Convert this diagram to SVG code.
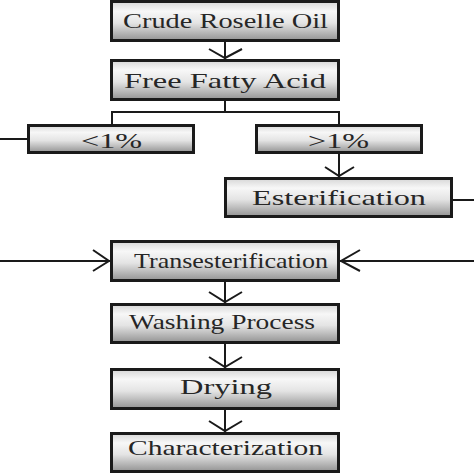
<svg xmlns="http://www.w3.org/2000/svg" width="474" height="474" viewBox="0 0 474 474">
<defs>
<linearGradient id="g" x1="0" y1="0" x2="0" y2="1">
<stop offset="0" stop-color="#d6d6d6"/>
<stop offset="0.25" stop-color="#f7f7f7"/>
<stop offset="0.55" stop-color="#e4e4e4"/>
<stop offset="1" stop-color="#939393"/>
</linearGradient>
<style>
.box{fill:url(#g);stroke:#1a1a1a;stroke-width:3}
.t{font-family:"Liberation Serif","Times New Roman",serif;font-size:22px;fill:#262626;text-anchor:start}
.c{fill:none;stroke:#1a1a1a;stroke-width:2}
</style>
</defs>
<rect width="474" height="474" fill="#ffffff"/>
<g id="connectors">
<path class="c" d="M225,42 V59 M209,49 L225,58 L242,49"/>
<path class="c" d="M225,101 V112 M112,112 H339 M112,111 V124 M339,111 V124"/>
<path class="c" d="M0,139 H27"/>
<path class="c" d="M339,154 V177 M325,167 L339,176 L354,167"/>
<path class="c" d="M453,200 H474"/>
<path class="c" d="M0,261 H110 M93,250 L109,261 L93,271"/>
<path class="c" d="M474,261 H340 M360,250 L341,261 L360,271"/>
<path class="c" d="M225,282 V303 M209,292 L225,302 L242,292"/>
<path class="c" d="M225,344 V368 M209,357 L225,367 L242,357"/>
<path class="c" d="M225,410 V432 M209,421 L225,431 L242,421"/>
</g>
<g id="crude"><rect class="box" x="111.5" y="1.5" width="227" height="39"/><text class="t" x="123" y="28" textLength="205" lengthAdjust="spacingAndGlyphs">Crude Roselle Oil</text></g>
<g id="ffa"><rect class="box" x="111.5" y="60.5" width="227" height="39"/><text class="t" x="124" y="88" textLength="202" lengthAdjust="spacingAndGlyphs">Free Fatty Acid</text></g>
<g id="lt1"><rect class="box" x="28.5" y="125.5" width="165" height="27"/><text class="t" x="81" y="148" textLength="61" lengthAdjust="spacingAndGlyphs">&lt;1%</text></g>
<g id="gt1"><rect class="box" x="256.5" y="125.5" width="165" height="27"/><text class="t" x="308" y="148" textLength="61" lengthAdjust="spacingAndGlyphs">&gt;1%</text></g>
<g id="ester"><rect class="box" x="225.5" y="178.5" width="226" height="38"/><text class="t" x="252" y="205" textLength="174" lengthAdjust="spacingAndGlyphs">Esterification</text></g>
<g id="trans"><rect class="box" x="111.5" y="241.5" width="227" height="39"/><text class="t" x="134" y="268" textLength="194" lengthAdjust="spacingAndGlyphs">Transesterification</text></g>
<g id="wash"><rect class="box" x="111.5" y="304.5" width="227" height="38"/><text class="t" x="129" y="329" textLength="186" lengthAdjust="spacingAndGlyphs">Washing Process</text></g>
<g id="dry"><rect class="box" x="111.5" y="369.5" width="227" height="39"/><text class="t" x="180" y="394" textLength="92" lengthAdjust="spacingAndGlyphs">Drying</text></g>
<g id="char"><rect class="box" x="111.5" y="433.5" width="227" height="38"/><text class="t" x="128" y="455" textLength="195" lengthAdjust="spacingAndGlyphs">Characterization</text></g>
</svg>
